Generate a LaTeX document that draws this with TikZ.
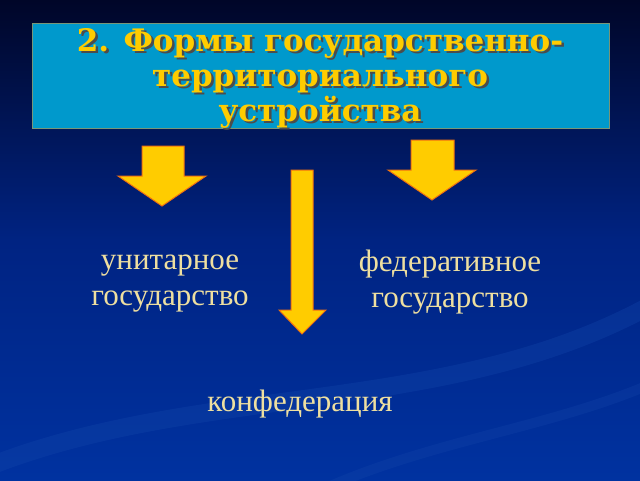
\documentclass[tikz,border=0pt]{standalone}
\usepackage{fontspec}
\setmainfont{Liberation Serif}
\newfontfamily\titlefont{DejaVu Serif}
\begin{document}
\begin{tikzpicture}[x=1pt,y=-1pt,
  arr/.style={fill=ArrY,draw=ArrO,line width=1pt,line join=miter},
  lbl/.style={text=LblC,font=\fontsize{31}{36}\selectfont,align=center,inner sep=0pt},
  ttl/.style={font=\titlefont\bfseries\fontsize{31}{35}\selectfont,align=center}]
\definecolor{ArrY}{HTML}{FFCC00}
\definecolor{ArrO}{HTML}{F07010}
\definecolor{LblC}{HTML}{EEDFA0}
\definecolor{TitleBg}{HTML}{0099CC}
\useasboundingbox (0,0) rectangle (640,480);
\shade[top color={rgb,255:red,0;green,6;blue,40}, bottom color={rgb,255:red,0;green,50;blue,160}, middle color={rgb,255:red,0;green,35;blue,130}] (0,0) rectangle (640,480);
\draw[line width=18pt, color={rgb,255:red,20;green,70;blue,170}, opacity=0.35] (-20,470) .. controls (200,380) and (450,420) .. (660,300);
\draw[line width=10pt, color={rgb,255:red,20;green,70;blue,170}, opacity=0.3] (300,500) .. controls (420,440) and (550,430) .. (660,380);
\node[draw={rgb,255:red,120;green,150;blue,120},fill=TitleBg,line width=1pt,minimum width=577pt,minimum height=105pt,inner sep=0pt,anchor=north west] (title) at (32,23) {};
\node[ttl,text=black!70] at (322.5,80.5) {2. Формы государственно-\\территориального\\устройства};
\node[ttl,text=ArrY] (ttext) at (320,78) {2. Формы государственно-\\территориального\\устройства};
\draw[arr] (142,146) -- (184,146) -- (184,176) -- (206,176) -- (162,206) -- (118,176) -- (142,176) -- cycle;
\draw[arr] (411,140) -- (454,140) -- (454,170) -- (476,170) -- (432,200) -- (388,170) -- (411,170) -- cycle;
\draw[arr] (291,170) -- (313,170) -- (313,310) -- (326,310) -- (302,334) -- (279,310) -- (291,310) -- cycle;
\node[lbl] (unit) at (170,284) {унитарное\\государство};
\node[lbl] (fed) at (450,282) {федеративное\\государство};
\node[lbl] (conf) at (300,404) {конфедерация};
\end{tikzpicture}
\end{document}
